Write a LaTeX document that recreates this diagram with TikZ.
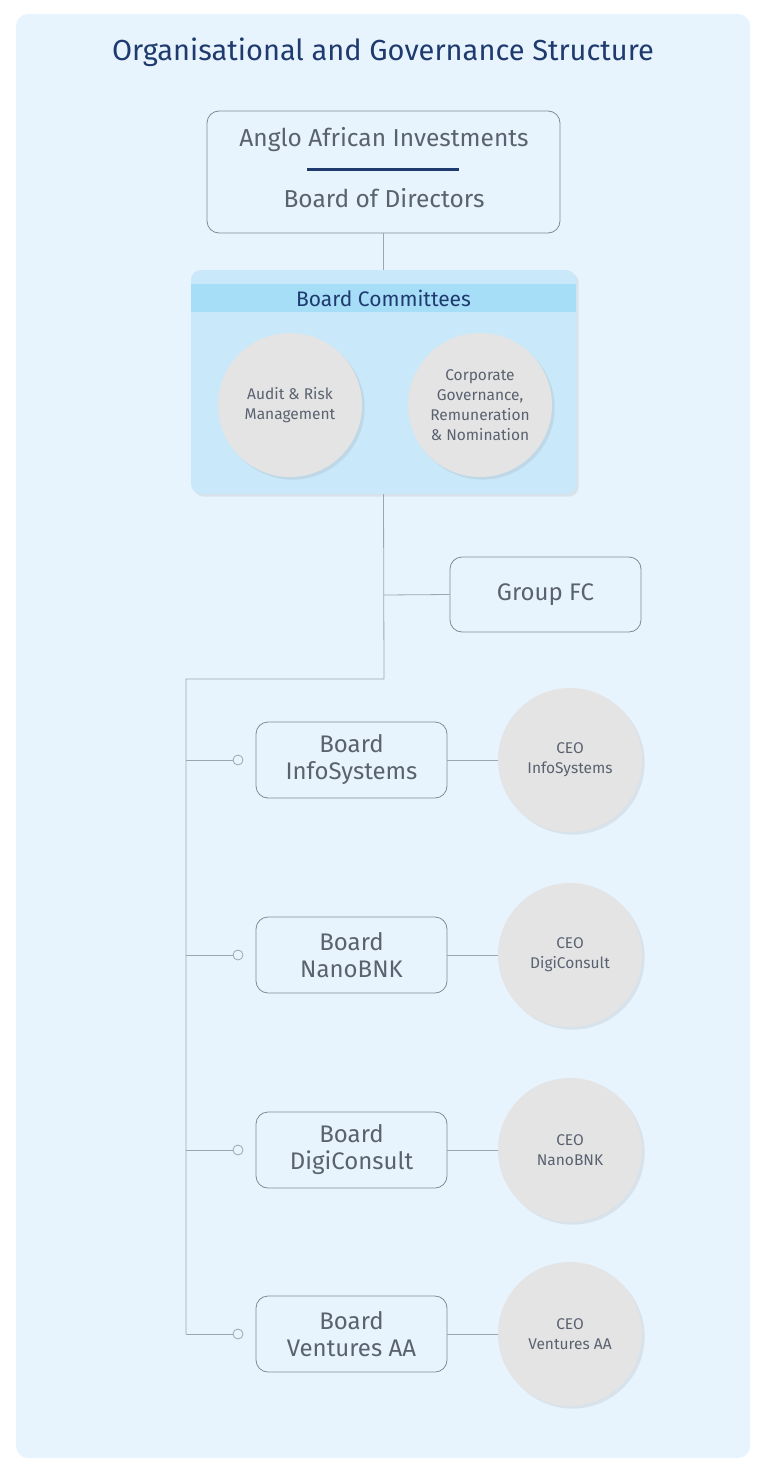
\documentclass[tikz,border=0pt]{standalone}
\usepackage{fontspec}
\setmainfont{Fira Sans}
\usetikzlibrary{shadows}
\definecolor{bgblue}{HTML}{E8F4FD}
\definecolor{navy}{HTML}{1F3A6E}
\definecolor{boxline}{HTML}{7D8A9C}
\definecolor{txtgray}{HTML}{5A6270}
\definecolor{cmtblue}{HTML}{C9E8FA}
\definecolor{cmthead}{HTML}{A6DDF7}
\definecolor{circgray}{HTML}{E4E4E4}
\definecolor{linegray}{HTML}{9AA6B4}
\tikzset{
  board/.style={draw=boxline,line width=0.8pt,rounded corners=12pt,minimum width=191pt,minimum height=76pt,
    align=center,text=txtgray,font=\fontsize{24}{27}\selectfont},
  ceo/.style={circle,fill=circgray,minimum size=144pt,align=center,text=txtgray,
    font=\fontsize{15.5}{20}\selectfont,drop shadow={opacity=0.15}},
  link/.style={draw=linegray,line width=0.8pt},
  knob/.style={circle,draw=linegray,fill=bgblue,line width=0.8pt,inner sep=0pt,minimum size=10pt}
}
\begin{document}
\begin{tikzpicture}[x=1pt,y=-1pt]
  \useasboundingbox (0,0) rectangle (768,1474);
  % Background
  \fill[bgblue,rounded corners=12pt] (16,14) rectangle (750,1458);
  \node (title) at (383,52) [text=navy,font=\fontsize{29}{31}\selectfont]
        {Organisational and Governance Structure};
  % Board of Directors
  \node (bod) at (383.5,172) [board,minimum width=353pt,minimum height=122pt] {};
  \node (aai) at (384,140) [text=txtgray,font=\fontsize{24.5}{27}\selectfont] {Anglo African Investments};
  \node (bdir) at (384,198) [text=txtgray,font=\fontsize{24.5}{27}\selectfont] {Board of Directors};
  \draw[navy,line width=3pt] (307,170) -- (459,170);
  % Board Committees
  \node (cmt) at (383.5,382) [fill=cmtblue,rounded corners=10pt,minimum width=385pt,
        minimum height=224pt,drop shadow={opacity=0.15}] {};
  \fill[cmthead] (191,284) rectangle (576,312);
  \node (cmthd) at (383.5,298) [text=navy,font=\fontsize{21}{23}\selectfont] {Board Committees};
  \node (audit) at (290,405) [ceo,drop shadow={opacity=0}] {Audit \& Risk\\Management};
  \node (corp) at (480,405) [ceo,drop shadow={opacity=0}] {Corporate\\Governance,\\Remuneration\\\& Nomination};
  \draw[link] (bod.south) -- (cmt.north);
  % Group FC
  \node (gfc) at (545.5,594.5) [board,minimum height=75pt] {Group FC};
  \coordinate (jfc) at (384,595);
  \coordinate (spine) at (384,679);
  \coordinate (top) at (186,679);
  \coordinate (bottom) at (186,1334);
  \draw[link] (cmt.south) -- (spine) -- (top) -- (bottom);
  \draw[link] (jfc) -- (gfc.west);
  % Subsidiaries
  \foreach \y/\b/\c/\n in {760/InfoSystems/InfoSystems/a,955/NanoBNK/DigiConsult/b,
                           1150/DigiConsult/NanoBNK/c,1334/Ventures AA/Ventures AA/d}{
    \coordinate (tap\n) at (186,\y);
    \node (knob\n) at (238,\y) [knob] {};
    \node (brd\n) at (351.5,\y) [board] {Board\\\b};
    \node (ceo\n) at (570,\y) [ceo] {CEO\\\c};
    \draw[link] (tap\n) -- (knob\n);
    \draw[link] (brd\n) -- (ceo\n);
  }
\end{tikzpicture}
\end{document}
